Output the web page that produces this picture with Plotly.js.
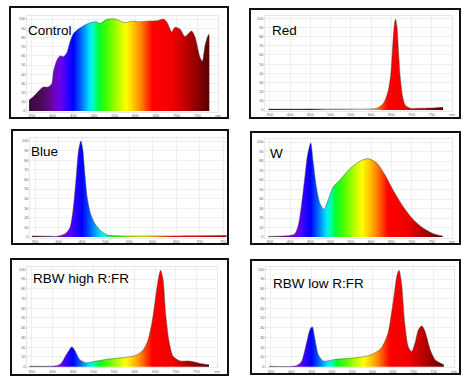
<!DOCTYPE html>
<html><head><meta charset="utf-8">
<script src="https://cdn.plot.ly/plotly-3.0.1.min.js"></script>
<style>html,body{margin:0;padding:0;background:#fff}</style>
</head><body><div id="chart" style="width:474px;height:387px"></div>
<script>
// ---- data (wavelength nm, relative intensity %) ----
const panelTitles = ["Control", "Red", "Blue", "W", "RBW high R:FR", "RBW low R:FR"];

const controlNm  = [343,353,369,377,389,398,402,410,418,426,434,442,450,462,478,494,506,514,531,551,575,591,611,635,652,668,676,688,696,708,720,736,744,756,762,769,777,779];
const controlVal = [12,15.5,23,26,26,30,43,55,60,59,63,75,84,89,93.5,96.4,97,95,99.6,100,96,97.5,97,97.8,98,100,97,86,91,89,81,87,81,59,54,72,83,83];

const redNm  = [347,400,450,500,550,600,614,627,635,643,649,654,658,660.5,664,668,672,678,684,697,720,750,778];
const redVal = [1,1,1,1,1,1.2,2,5.5,11,22,40,73,94.5,99,91,62,36,14.5,5.5,2,2,2.2,3];

const blueNm  = [343,380,396,414,424,431,437,442,447,451,456,461,468,477,488,502,523,600,700,757];
const blueVal = [1,0.8,0.7,3.5,10,30,61,89,100,92,64,40,24,14,7,2.4,1.2,1,1.3,1.5];

const wNm  = [346,399.5,412,420,428,437,443,451,457,465.5,474,484,494,507,523,548,573,593,614,635,655,680,705,730,754,777];
const wVal = [0.5,1.5,3.5,12,33,65,86,99,79,51,35,29,39,53,60,72,80,82.5,78,65,49,31.6,18,9,3.5,1];

const rbwHighNm  = [344,409,421,433,442,447,454,466,482,506.5,531,555,579.5,604,620,632,643,651,659,663,669,675,683,693,709,733.6,758,780.6];
const rbwHighVal = [0.5,1,3.4,12,18,20.5,17,7.5,4,5.8,7.5,8.6,9.6,12,17,27,48,72,94,99,89,55,27,11,6,5.8,3.4,2];

const rbwLowNm  = [346,412.5,425,437.5,446,451.7,458,467,479,508,542,575,600,621,637.5,650,660,665,671,679,687.5,696,704,712.5,721,729,742,754,775];
const rbwLowVal = [0.5,1,5,24,38,41,29,12,5.8,7.5,8.6,10,13,19,34,65,94,99,86,44.5,20.5,15.4,24,38,42,36,17,7,2];

const xTickVals = [350,400,450,500,550,600,650,700,750,800];
const xTickText = ["350","400","450","500","550","600","650","700","750","nm"];
const yTickVals = [0,10,20,30,40,50,60,70,80,90,100];

// ---- styling: wavelength -> colour ----
const specNm  = [340,370,390,405,420,435,450,465,478,490,500,512,530,555,578,595,612,628,642,690,715,740,765,790,800];
const specCol = ["#3a0838","#4a0a50","#5c0a80","#7000c0","#6a00f0","#3000ff","#0000ff","#0050ff","#00a0ff","#00e8ff","#00ffb0","#00ff30","#40ff00","#a8ff00","#ffff00","#ffc800","#ff8c00","#ff4000","#ff0000","#f00000","#c80000","#a00000","#700000","#4a0000","#400000"];
const gStart = 340, gStop = 800;
const colorscale = specNm.map((w,i)=>[(w-gStart)/(gStop-gStart), specCol[i]]);

const W = 474, H = 387;
const panels = [
  {x:[controlNm,controlVal], xr:[338,800], xl:27, xrp:218, y0:111, y100:19, box:[10,7,228,118], t:[26,30], ticks:10},
  {x:[redNm,redVal], xr:[338,800], xl:265, xrp:452, y0:110, y100:18.3, box:[250,9,460,118], t:[270,30], ticks:10},
  {x:[blueNm,blueVal], xr:[339,758], xl:30, xrp:227, y0:237, y100:141, box:[12,130,228,244], t:[29,151], ticks:9},
  {x:[wNm,wVal], xr:[338,800], xl:265, xrp:452, y0:237, y100:142, box:[251,132,460,244], t:[268,153], ticks:10},
  {x:[rbwHighNm,rbwHighVal], xr:[338,800], xl:27, xrp:217, y0:366.7, y100:269.3, box:[11,259,228,375], t:[31,278], ticks:10},
  {x:[rbwLowNm,rbwLowVal], xr:[338,800], xl:266, xrp:454, y0:366.7, y100:269.3, box:[251,260,460,374], t:[271,283], ticks:10}
];

const data = [], shapes = [], annotations = [];
const layout = {width:W, height:H, margin:{l:0,r:0,t:0,b:0}, paper_bgcolor:"#fff", plot_bgcolor:"#fff", showlegend:false};

panels.forEach((p,i)=>{
  const n = i+1;
  const xa = "xaxis"+(n===1?"":n), ya = "yaxis"+(n===1?"":n);
  const s = (p.y0 - p.y100)/100;
  const bottom = p.y0 + s*1, top = p.y0 - s*103;
  layout[xa] = {domain:[p.xl/W, p.xrp/W], range:p.xr, anchor:"y"+(n===1?"":n),
    tickvals:xTickVals.slice(0,p.ticks), ticktext:xTickText.slice(0,p.ticks),
    tickfont:{size:4,color:"#666",family:"Liberation Sans"}, ticks:"", showgrid:true, gridcolor:"#e4e4e4", gridwidth:0.6,
    zeroline:false, showline:true, linecolor:"#d8d8d8", linewidth:0.6, mirror:true, fixedrange:true};
  layout[ya] = {domain:[1-bottom/H, 1-top/H], range:[-1,103], anchor:"x"+(n===1?"":n),
    tickvals:yTickVals, tickfont:{size:4,color:"#666",family:"Liberation Sans"}, ticks:"", showgrid:true, gridcolor:"#e4e4e4", gridwidth:0.6,
    zeroline:false, showline:true, linecolor:"#d8d8d8", linewidth:0.6, mirror:true, fixedrange:true};
  data.push({type:"scatter", mode:"lines", x:p.x[0], y:p.x[1], xaxis:"x"+(n===1?"":n), yaxis:"y"+(n===1?"":n),
    line:{shape:"spline", smoothing:0.7, width:0.8, color:"rgba(70,70,70,0.6)"},
    fill:"tozeroy", fillgradient:{type:"horizontal", start:gStart, stop:gStop, colorscale:colorscale},
    hoverinfo:"skip"});
  shapes.push({type:"rect", xref:"paper", yref:"paper", x0:p.box[0]/W, x1:p.box[2]/W, y0:1-p.box[3]/H, y1:1-p.box[1]/H,
    line:{color:"#111", width:2}, fillcolor:"rgba(0,0,0,0)"});
  annotations.push({xref:"paper", yref:"paper", x:p.t[0]/W, y:1-p.t[1]/H, xanchor:"left", yanchor:"middle",
    text:panelTitles[i], showarrow:false, font:{family:"Liberation Sans, Arial, sans-serif", size:13.5, color:"#000"}});
});
layout.shapes = shapes;
layout.annotations = annotations;

Plotly.newPlot("chart", data, layout, {staticPlot:true, displayModeBar:false});
</script></body></html>
